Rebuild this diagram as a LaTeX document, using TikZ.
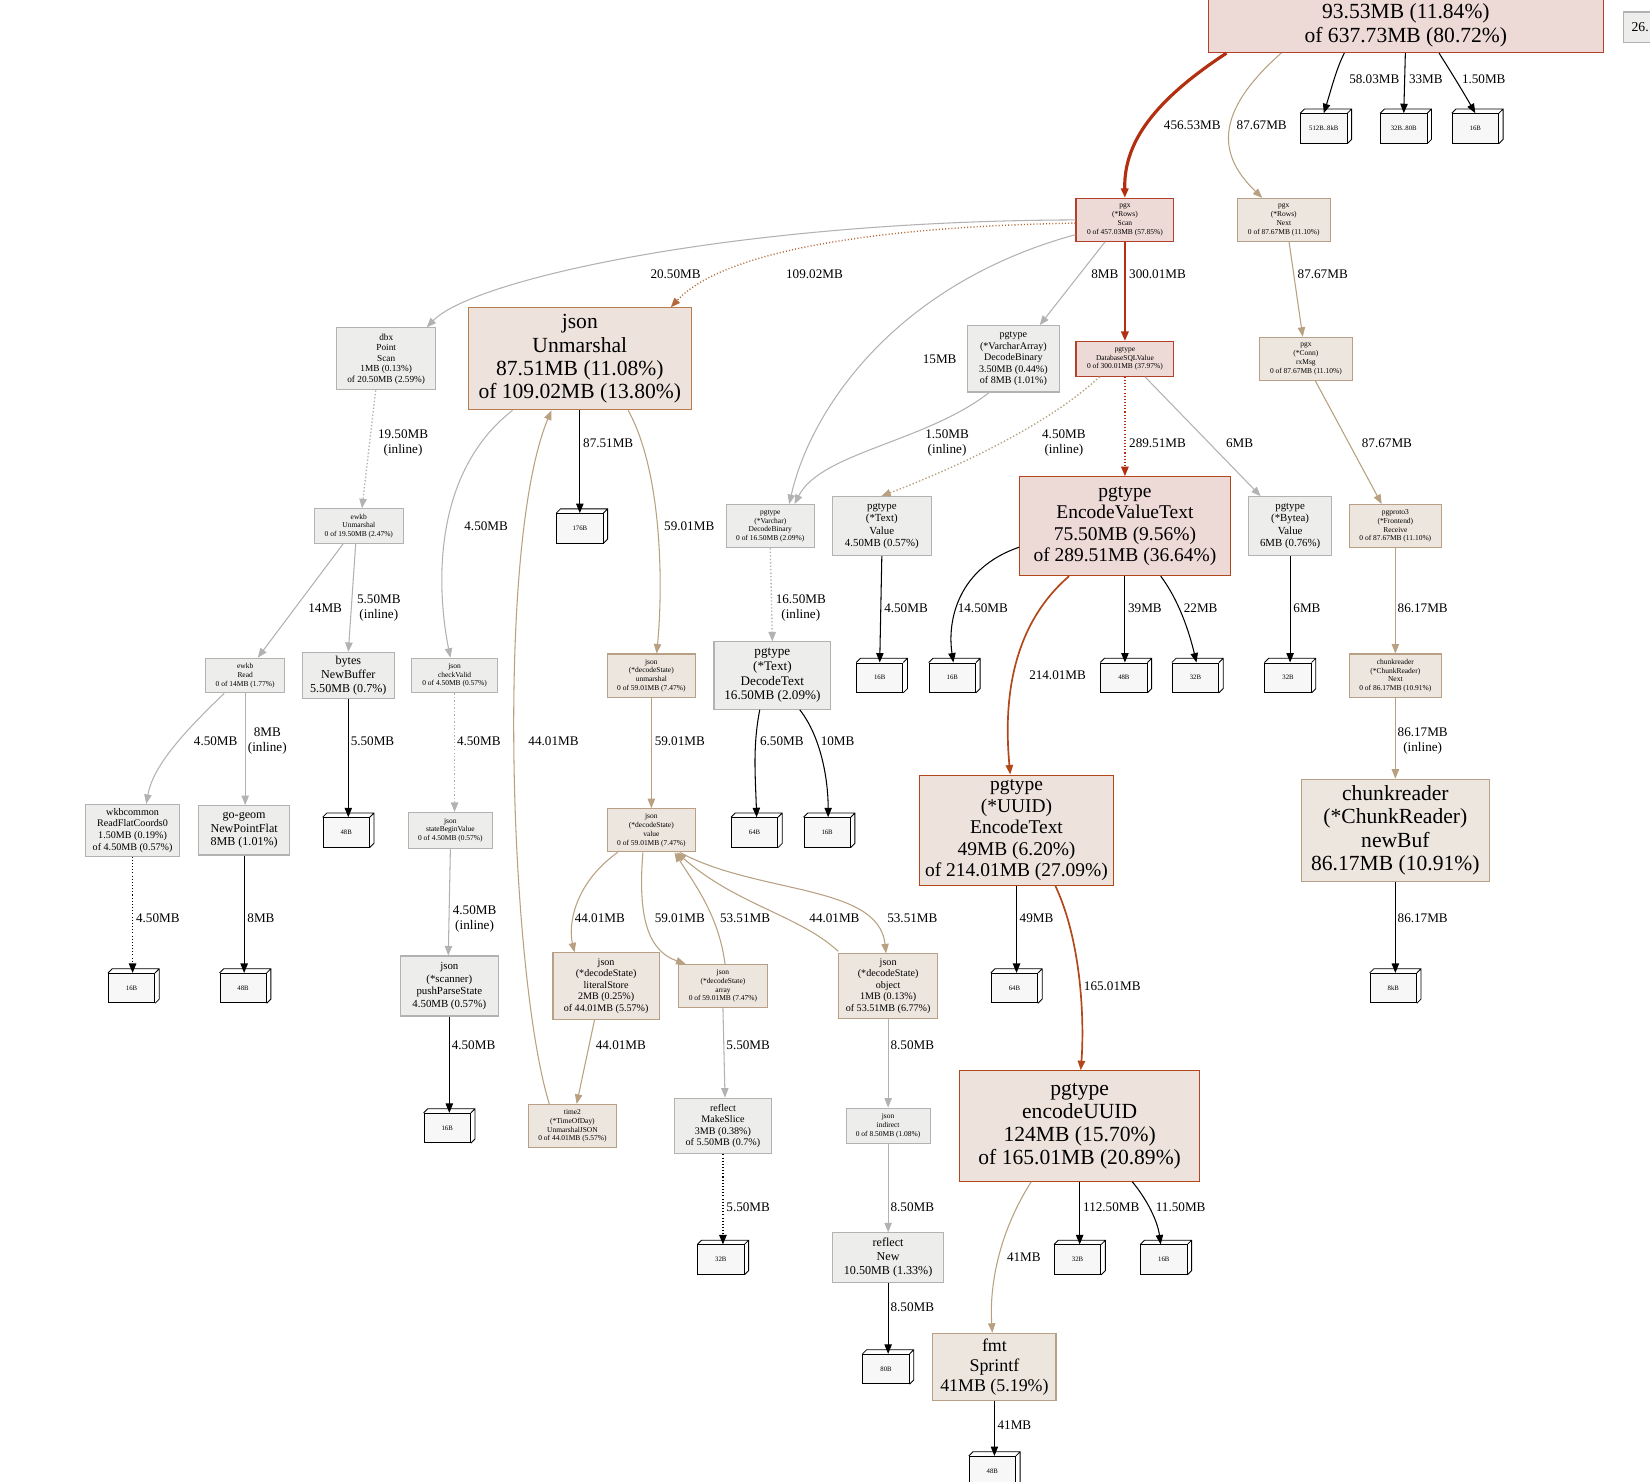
\documentclass[tikz,border=0pt]{standalone}
\usepackage{fontspec}
\setmainfont{Liberation Serif}
\usetikzlibrary{arrows.meta}
\definecolor{rfill}{HTML}{EDD9D6}\definecolor{rdraw}{HTML}{B2402A}
\definecolor{tfill}{HTML}{EDE6DF}\definecolor{tdraw}{HTML}{B8A086}
\definecolor{gfill}{HTML}{EDEDEC}\definecolor{gdraw}{HTML}{B2B2B2}
\definecolor{ofill}{HTML}{EDE3DC}\definecolor{odraw}{HTML}{B87B4C}
\definecolor{ered}{HTML}{B2300F}\definecolor{ebrown}{HTML}{B2481A}
\definecolor{etan}{HTML}{B8A080}\definecolor{egrey}{HTML}{B2B2B2}
\definecolor{edot}{HTML}{B26A3B}
\newcommand\leafbox[4]{\node[leaf] (#1) at (#2,#3) {#4};
 \draw[black,line width=0.8pt] (#1.north west) -- ++(4,-4) -- ([shift={(4,-4)}]#1.north east) -- ([shift={(4,-4)}]#1.south east) -- (#1.south east) (#1.north east) -- ++(4,-4);}
\begin{document}
\begin{tikzpicture}[x=1pt,y=-1pt,
 nd/.style={draw,align=center,inner sep=1pt,line width=1pt},
 R/.style={nd,fill=rfill,draw=rdraw},
 T/.style={nd,fill=tfill,draw=tdraw},
 G/.style={nd,fill=gfill,draw=gdraw},
 O/.style={nd,fill=ofill,draw=odraw},
 f18/.style={font=\fontsize{20.5}{22}\selectfont},
 f16/.style={font=\fontsize{18.5}{20.5}\selectfont},
 f15/.style={font=\fontsize{17}{19}\selectfont},
 f11/.style={font=\fontsize{12.5}{14}\selectfont},
 f10/.style={font=\fontsize{11.5}{13}\selectfont},
 f9/.style={font=\fontsize{10.3}{11.8}\selectfont},
 f85/.style={font=\fontsize{9.6}{11}\selectfont},
 f75/.style={font=\fontsize{8.8}{10}\selectfont},
 f6/.style={font=\fontsize{7.1}{8.3}\selectfont},
 leaf/.style={draw=black,fill=white!97!black,line width=0.8pt,minimum width=44,minimum height=28,inner sep=0pt,font=\fontsize{6.4}{7}\selectfont},
 lb/.style={font=\fontsize{12.5}{14.5}\selectfont,align=center,inner sep=0pt},
 ar/.style={-{Triangle[length=9pt,width=7pt]},line width=1pt},
 ek/.style={ar,black},
 et/.style={ar,etan},
 eg/.style={ar,egrey},
 dt/.style={dotted,line width=1.3pt},
]
\useasboundingbox[fill=white] (0,0) rectangle (1568,1408);
% nodes
\node[R,f18,minimum width=376,minimum height=52] (top) at (1336,24) {93.53MB (11.84\%)\\of 637.73MB (80.72\%)};
\node[G,font=\fontsize{13}{15}\selectfont,anchor=base west,inner ysep=10,inner xsep=8,text width=40,align=left] (part) at (1542,30) {26.};
\leafbox{la}{1258}{122}{512B..8kB}
\leafbox{lb}{1334}{122}{32B..80B}
\leafbox{lc}{1402}{122}{16B}
\node[R,f6,minimum width=93,minimum height=41] (scan) at (1069,209) {pgx\\(*Rows)\\Scan\\0 of 457.03MB (57.85\%)};
\node[T,f6,minimum width=88,minimum height=41] (next) at (1220,209) {pgx\\(*Rows)\\Next\\0 of 87.67MB (11.10\%)};
\node[T,f6,minimum width=88,minimum height=41] (rxm) at (1241,341) {pgx\\(*Conn)\\rxMsg\\0 of 87.67MB (11.10\%)};
\node[R,f6,minimum width=93,minimum height=33] (dsv) at (1069,341) {pgtype\\DatabaseSQLValue\\0 of 300.01MB (37.97\%)};
\node[G,f85,minimum width=87,minimum height=63] (vca) at (963,341) {pgtype\\(*VarcharArray)\\DecodeBinary\\3.50MB (0.44\%)\\of 8MB (1.01\%)};
\node[O,f18,minimum width=212,minimum height=97] (ju) at (551,341) {json\\Unmarshal\\87.51MB (11.08\%)\\of 109.02MB (13.80\%)};
\node[G,f75,minimum width=94,minimum height=59] (dbx) at (367,341) {dbx\\Point\\Scan\\1MB (0.13\%)\\of 20.50MB (2.59\%)};
\node[G,f6,minimum width=84,minimum height=33] (ewu) at (341,500) {ewkb\\Unmarshal\\0 of 19.50MB (2.47\%)};
\node[G,f6,minimum width=84,minimum height=41] (vdb) at (732,500) {pgtype\\(*Varchar)\\DecodeBinary\\0 of 16.50MB (2.09\%)};
\node[G,f9,minimum width=94,minimum height=56] (tv) at (838,500) {pgtype\\(*Text)\\Value\\4.50MB (0.57\%)};
\node[R,f16,fill=rfill,draw=ebrown,minimum width=200,minimum height=94] (evt) at (1069,500) {pgtype\\EncodeValueText\\75.50MB (9.56\%)\\of 289.51MB (36.64\%)};
\node[G,f9,minimum width=79,minimum height=56] (bv) at (1226,500) {pgtype\\(*Bytea)\\Value\\6MB (0.76\%)};
\node[T,f6,minimum width=87,minimum height=41] (fr) at (1326,500) {pgproto3\\(*Frontend)\\Receive\\0 of 87.67MB (11.10\%)};
\node[G,f6,minimum width=75,minimum height=33] (ewr) at (233,642) {ewkb\\Read\\0 of 14MB (1.77\%)};
\node[G,f10,minimum width=87,minimum height=44] (nb) at (331,642) {bytes\\NewBuffer\\5.50MB (0.7\%)};
\node[G,f6,minimum width=82,minimum height=33] (cv) at (432,642) {json\\checkValid\\0 of 4.50MB (0.57\%)};
\node[T,f6,minimum width=84,minimum height=41] (dsu) at (619,642) {json\\(*decodeState)\\unmarshal\\0 of 59.01MB (7.47\%)};
\node[G,f11,minimum width=111,minimum height=64] (tdt) at (734,642) {pgtype\\(*Text)\\DecodeText\\16.50MB (2.09\%)};
\node[T,f6,minimum width=87,minimum height=41] (crn) at (1326,642) {chunkreader\\(*ChunkReader)\\Next\\0 of 86.17MB (10.91\%)};
\node[G,f85,minimum width=89,minimum height=49] (wkb) at (126,789) {wkbcommon\\ReadFlatCoords0\\1.50MB (0.19\%)\\of 4.50MB (0.57\%)};
\node[G,f10,minimum width=87,minimum height=47] (gg) at (232,789) {go-geom\\NewPointFlat\\8MB (1.01\%)};
\node[G,f6,minimum width=80,minimum height=34] (sbv) at (428,789) {json\\stateBeginValue\\0 of 4.50MB (0.57\%)};
\node[T,f6,minimum width=84,minimum height=41] (val) at (619,789) {json\\(*decodeState)\\value\\0 of 59.01MB (7.47\%)};
\node[O,f16,fill=ofill,draw=ebrown,minimum width=185,minimum height=105] (uuid) at (966,789) {pgtype\\(*UUID)\\EncodeText\\49MB (6.20\%)\\of 214.01MB (27.09\%)};
\node[T,f18,minimum width=179,minimum height=97] (nbuf) at (1326,789) {chunkreader\\(*ChunkReader)\\newBuf\\86.17MB (10.91\%)};
\node[G,f9,minimum width=93,minimum height=57] (pps) at (427,937) {json\\(*scanner)\\pushParseState\\4.50MB (0.57\%)};
\node[T,f85,minimum width=101,minimum height=63] (ls) at (576,937) {json\\(*decodeState)\\literalStore\\2MB (0.25\%)\\of 44.01MB (5.57\%)};
\node[T,f6,minimum width=84,minimum height=41] (arr) at (687,937) {json\\(*decodeState)\\array\\0 of 59.01MB (7.47\%)};
\node[T,f85,minimum width=94,minimum height=61] (obj) at (844,937) {json\\(*decodeState)\\object\\1MB (0.13\%)\\of 53.51MB (6.77\%)};
\node[T,f6,minimum width=84,minimum height=41] (t2) at (544,1070) {time2\\(*TimeOfDay)\\UnmarshalJSON\\0 of 44.01MB (5.57\%)};
\node[G,f85,minimum width=92,minimum height=53] (ms) at (687,1070) {reflect\\MakeSlice\\3MB (0.38\%)\\of 5.50MB (0.7\%)};
\node[G,f6,minimum width=80,minimum height=34] (ind) at (844,1070) {json\\indirect\\0 of 8.50MB (1.08\%)};
\node[O,f18,fill=ofill,draw=ebrown,minimum width=228,minimum height=105] (euu) at (1026,1070) {pgtype\\encodeUUID\\124MB (15.70\%)\\of 165.01MB (20.89\%)};
\node[G,f10,minimum width=106,minimum height=47] (rn) at (844,1195) {reflect\\New\\10.50MB (1.33\%)};
\node[T,f15,minimum width=117,minimum height=64] (fmt) at (945,1299) {fmt\\Sprintf\\41MB (5.19\%)};
% leaves
\leafbox{l176}{551}{502}{176B}
\leafbox{l1}{836}{644}{16B}
\leafbox{l2}{905}{644}{16B}
\leafbox{l3}{1068}{644}{48B}
\leafbox{l4}{1136}{644}{32B}
\leafbox{l5}{1224}{644}{32B}
\leafbox{l6}{329}{791}{48B}
\leafbox{l7}{717}{791}{64B}
\leafbox{l8}{786}{791}{16B}
\leafbox{l9}{125}{939}{16B}
\leafbox{l10}{231}{939}{48B}
\leafbox{l11}{964}{939}{64B}
\leafbox{l12}{1324}{939}{8kB}
\leafbox{l13}{425}{1072}{16B}
\leafbox{l14}{685}{1197}{32B}
\leafbox{l15}{1024}{1197}{32B}
\leafbox{l16}{1106}{1197}{16B}
\leafbox{l17}{842}{1301}{80B}
\leafbox{l18}{943}{1398}{48B}
% edges
\draw[ar,ered,line width=3pt] ([xshift=18]top.south west) .. controls (1090,100) and (1068,140) .. (scan.north);
\draw[et] ([xshift=70]top.south west) .. controls (1150,110) and (1160,150) .. ([xshift=24]next.north west);
\draw[ek] ([xshift=130]top.south west) .. controls (1270,65) and (1265,85) .. (la.north);
\draw[ek] ([xshift=188]top.south west) -- (lb.north);
\draw[ek] ([xshift=220]top.south west) .. controls (1380,70) and (1392,90) .. (lc.north);
\draw[ar,edot,dt] ([yshift=-3]scan.west) .. controls (850,215) and (690,235) .. ([xshift=-20]ju.north east);
\draw[eg] (scan.west) .. controls (700,210) and (450,265) .. ([xshift=-9]dbx.north east);
\draw[eg] ([yshift=-14]scan.west) .. controls (850,270) and (770,390) .. ([xshift=18]vdb.north);
\draw[eg] ([xshift=-19]scan.south) -- ([xshift=25]vca.north);
\draw[ar,ered,line width=2pt] (scan.south) -- (dsv.north);
\draw[et] ([xshift=5]next.south) -- ([xshift=-3]rxm.north);
\draw[et] ([xshift=9]rxm.south) -- ([xshift=-13]fr.north);
\draw[eg] ([xshift=-23]vca.south) .. controls (880,420) and (780,430) .. ([xshift=23]vdb.north);
\draw[et,dt,dotted] ([xshift=-24]dsv.south) .. controls (1000,400) and (920,440) .. ([xshift=47]tv.north west);
\draw[ar,ered,dotted,line width=1.6pt] (dsv.south) -- (evt.north);
\draw[eg] ([xshift=19]dsv.south) -- ([xshift=-28]bv.north);
\draw[eg,dt,dotted] ([xshift=-10]dbx.south) -- ([xshift=3]ewu.north);
\draw[ek] (ju.south) -- (l176.north);
\draw[eg] ([xshift=-64]ju.south) .. controls (410,450) and (415,560) .. ([xshift=-4]cv.north);
\draw[et] ([xshift=46]ju.south) .. controls (630,450) and (630,560) .. ([xshift=5]dsu.north);
\draw[et] ([xshift=-22]t2.north) .. controls (485,930) and (470,520) .. ([xshift=-27]ju.south);
\draw[eg,dt,dotted] (vdb.south) -- (tdt.north);
\draw[ek] (tv.south) -- (l1.north);
\draw[ek] ([yshift=-20]evt.west) .. controls (910,540) and (900,590) .. ([xshift=1]l2.north);
\draw[ar,ebrown,line width=1.6pt] ([xshift=-53]evt.south) .. controls (955,600) and (955,680) .. ([xshift=-6]uuid.north);
\draw[ek] (evt.south) -- ([xshift=1]l3.north);
\draw[ek] ([xshift=34]evt.south) .. controls (1120,570) and (1130,600) .. ([xshift=1]l4.north);
\draw[ek] (bv.south) -- ([xshift=2]l5.north);
\draw[et] (fr.south) -- (crn.north);
\draw[eg] ([xshift=-15]ewu.south) -- ([xshift=12]ewr.north);
\draw[eg] ([xshift=-3]ewu.south) -- (nb.north);
\draw[eg] ([xshift=-20]ewr.south) .. controls (170,700) and (145,730) .. ([xshift=13]wkb.north);
\draw[eg] (ewr.south) -- ([xshift=1]gg.north);
\draw[ek] (nb.south) -- ([xshift=2]l6.north);
\draw[eg,dt,dotted] (cv.south) -- ([xshift=4]sbv.north);
\draw[et] (dsu.south) -- (val.north);
\draw[ek] ([xshift=-12]tdt.south) .. controls (715,710) and (718,740) .. ([xshift=2]l7.north);
\draw[ek] ([xshift=26]tdt.south) .. controls (780,700) and (787,740) .. ([xshift=1]l8.north);
\draw[et] (crn.south) -- (nbuf.north);
\draw[ek,dotted,line width=1.3pt] (wkb.south) -- ([xshift=1]l9.north);
\draw[ek] (gg.south) -- ([xshift=1]l10.north);
\draw[eg] (sbv.south) -- ([xshift=-1]pps.north);
\draw[et] ([xshift=-32]val.south) .. controls (545,840) and (540,880) .. ([xshift=-30]ls.north);
\draw[et] ([xshift=-8]val.south) .. controls (605,880) and (620,905) .. ([xshift=7]arr.north west);
\draw[et] ([xshift=2]arr.north) .. controls (683,870) and (660,840) .. ([xshift=22]val.south);
\draw[et] ([yshift=2]obj.north west) .. controls (760,870) and (700,860) .. ([xshift=24]val.south);
\draw[et] ([xshift=27]val.south) .. controls (720,850) and (835,840) .. ([xshift=-2]obj.north);
\draw[ek] (uuid.south) -- ([xshift=2]l11.north);
\draw[ar,ebrown,line width=1.6pt] ([xshift=37]uuid.south) .. controls (1030,900) and (1030,980) .. ([xshift=1]euu.north);
\draw[ek] (nbuf.south) -- ([xshift=2]l12.north);
\draw[ek] (pps.south) -- ([xshift=2]l13.north);
\draw[et] ([xshift=-11]ls.south) -- ([xshift=4]t2.north);
\draw[eg] (arr.south) -- ([xshift=2]ms.north);
\draw[eg] (obj.south) -- (ind.north);
\draw[ek,dotted,line width=1.3pt] (ms.south) -- ([xshift=2]l14.north);
\draw[eg] (ind.south) -- (rn.north);
\draw[et] ([xshift=-46]euu.south) .. controls (950,1170) and (940,1220) .. ([xshift=-2]fmt.north);
\draw[ek] (euu.south) -- ([xshift=2]l15.north);
\draw[ek] ([xshift=50]euu.south) .. controls (1090,1140) and (1100,1160) .. ([xshift=-3]l16.north);
\draw[ek] (rn.south) -- ([xshift=2]l17.north);
\draw[ek] (fmt.south) -- ([xshift=2]l18.north);
% labels
\node[lb] (a1) at (1133,119) {456.53MB};
\node[lb] (a2) at (1199,119) {87.67MB};
\node[lb] (a3) at (1306,75) {58.03MB};
\node[lb] (a4) at (1355,75) {33MB};
\node[lb] (a5) at (1410,75) {1.50MB};
\node[lb] (b1) at (774,261) {109.02MB};
\node[lb] (b2) at (642,261) {20.50MB};
\node[lb] (b3) at (893,341) {15MB};
\node[lb] (b4) at (1050,261) {8MB};
\node[lb] (b5) at (1100,261) {300.01MB};
\node[lb] (b6) at (1257,261) {87.67MB};
\node[lb] (b7) at (1318,421) {87.67MB};
\node[lb] (b8) at (900,421) {1.50MB\\(inline)};
\node[lb] (b9) at (1011,421) {4.50MB\\(inline)};
\node[lb] (b10) at (1100,421) {289.51MB};
\node[lb] (b11) at (1178,421) {6MB};
\node[lb] (b12) at (383,421) {19.50MB\\(inline)};
\node[lb] (b13) at (578,421) {87.51MB};
\node[lb] (c1) at (462,500) {4.50MB};
\node[lb] (c2) at (655,500) {59.01MB};
\node[lb] (c3) at (526,704) {44.01MB};
\node[lb] (c4) at (761,578) {16.50MB\\(inline)};
\node[lb] (c5) at (861,578) {4.50MB};
\node[lb] (c6) at (934,578) {14.50MB};
\node[lb] (c7) at (1005,642) {214.01MB};
\node[lb] (c8) at (1088,578) {39MB};
\node[lb] (c9) at (1141,578) {22MB};
\node[lb] (c10) at (1242,578) {6MB};
\node[lb] (c11) at (1352,578) {86.17MB};
\node[lb] (c12) at (309,578) {14MB};
\node[lb] (c13) at (360,578) {5.50MB\\(inline)};
\node[lb] (d1) at (205,704) {4.50MB};
\node[lb] (d2) at (254,704) {8MB\\(inline)};
\node[lb] (d3) at (354,704) {5.50MB};
\node[lb] (d4) at (455,704) {4.50MB};
\node[lb] (d5) at (646,704) {59.01MB};
\node[lb] (d6) at (743,704) {6.50MB};
\node[lb] (d7) at (796,704) {10MB};
\node[lb] (d8) at (1352,704) {86.17MB\\(inline)};
\node[lb] (e1) at (150,873) {4.50MB};
\node[lb] (e2) at (248,873) {8MB};
\node[lb] (e3) at (451,873) {4.50MB\\(inline)};
\node[lb] (e4) at (570,873) {44.01MB};
\node[lb] (e5) at (646,873) {59.01MB};
\node[lb] (e6) at (708,873) {53.51MB};
\node[lb] (e7) at (793,873) {44.01MB};
\node[lb] (e8) at (867,873) {53.51MB};
\node[lb] (e9) at (985,873) {49MB};
\node[lb] (e10) at (1057,937) {165.01MB};
\node[lb] (e11) at (1352,873) {86.17MB};
\node[lb] (f1) at (450,993) {4.50MB};
\node[lb] (f2) at (590,993) {44.01MB};
\node[lb] (f3) at (711,993) {5.50MB};
\node[lb] (f4) at (867,993) {8.50MB};
\node[lb] (f5) at (711,1147) {5.50MB};
\node[lb] (f6) at (867,1147) {8.50MB};
\node[lb] (f7) at (973,1195) {41MB};
\node[lb] (f8) at (1056,1147) {112.50MB};
\node[lb] (f9) at (1122,1147) {11.50MB};
\node[lb] (f10) at (867,1242) {8.50MB};
\node[lb] (f11) at (964,1354) {41MB};
\end{tikzpicture}
\end{document}
